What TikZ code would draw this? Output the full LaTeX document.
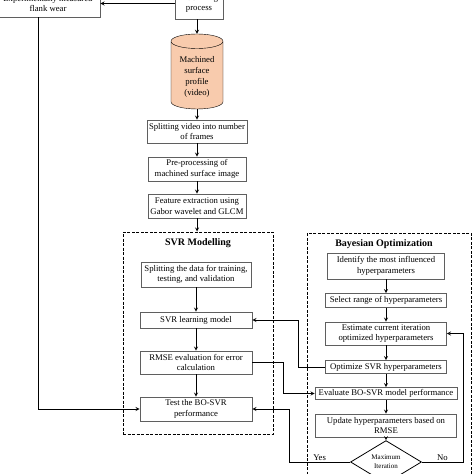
\documentclass[tikz,border=0pt]{standalone}
\usepackage{fontspec}
\setmainfont{Liberation Serif}
\usetikzlibrary{shapes.geometric, arrows.meta, positioning, calc}
\definecolor{peach}{RGB}{248,203,173}
\definecolor{boxline}{RGB}{95,95,95}
\tikzstyle{stage} = [rectangle, draw=boxline, line width=0.8pt, align=center, inner sep=1pt, font=\fontsize{8.7}{10.5}\selectfont]
\tikzstyle{group} = [rectangle, draw=black, line width=1pt, dash pattern=on 3pt off 1.5pt]
\tikzstyle{grouptitle} = [font=\fontsize{10}{12}\selectfont\bfseries]
\tikzstyle{store} = [cylinder, shape border rotate=90, aspect=0.35, draw=black, fill=peach, align=center, font=\fontsize{8.7}{11}\selectfont]
\tikzstyle{decision} = [diamond, draw=black, line width=0.8pt, align=center, inner sep=0pt, font=\fontsize{7}{9}\selectfont]
\tikzstyle{arrow} = [thick, ->, >=stealth]

\begin{document}
\begin{tikzpicture}[x=1pt, y=-1pt]
    \useasboundingbox (0,0) rectangle (474,474);
    % input side
    \node[stage, minimum width=104pt, minimum height=27pt] (flank) at (48,3.5) {Experimentally measured\\flank wear};
    \node[stage, minimum width=48pt, minimum height=31pt] (proc) at (199,3.5) {Machining\\process};
    \node[store, minimum width=52pt, minimum height=75pt] (cyl) at (197,77) {Machined\\surface\\profile\\(video)};
    \node[stage, minimum width=100pt, minimum height=23pt] (video) at (197,131.5) {Splitting video into number\\of frames};
    \node[stage, minimum width=98pt, minimum height=24pt] (preproc) at (197,169) {Pre-processing of\\machined surface image};
    \node[stage, minimum width=98pt, minimum height=24pt] (feature) at (197,206) {Feature extraction using\\Gabor wavelet and GLCM};
    % SVR part
    \node[group, minimum width=150pt, minimum height=202pt] (svrgroup) at (198,333) {};
    \node[grouptitle] (svrtitle) at (198,243) {SVR Modelling};
    \node[stage, minimum width=110pt, minimum height=25pt] (split) at (196,274.5) {Splitting the data for training,\\testing, and validation};
    \node[stage, minimum width=112pt, minimum height=16pt] (learn) at (196,320) {SVR learning model};
    \node[stage, minimum width=112pt, minimum height=23pt] (rmse) at (196,362.5) {RMSE evaluation for error\\calculation};
    \node[stage, minimum width=112pt, minimum height=24pt] (test) at (196,409) {Test the BO-SVR\\performance};
    % Bayesian part
    \node[group, minimum width=164pt, minimum height=257pt] (bogroup) at (389,361.5) {};
    \node[grouptitle] (botitle) at (384,244) {Bayesian Optimization};
    \node[stage, minimum width=117pt, minimum height=26pt] (identify) at (386,266) {Identify the most influenced\\hyperparameters};
    \node[stage, minimum width=121pt, minimum height=14pt] (select) at (386,300.5) {Select range of hyperparameters};
    \node[stage, minimum width=121pt, minimum height=23pt] (estim) at (386,333.5) {Estimate current iteration\\optimized hyperparameters};
    \node[stage, minimum width=121pt, minimum height=13pt] (optim) at (386,367) {Optimize SVR hyperparameters};
    \node[stage, minimum width=142pt, minimum height=12pt] (evalbo) at (386,393.5) {Evaluate BO-SVR model performance};
    \node[stage, minimum width=141pt, minimum height=23pt] (update) at (386,425.5) {Update hyperparameters based on\\RMSE};
    \node[decision, minimum width=71pt, minimum height=32pt] (maxit) at (386,462) {Maximum\\Iteration};

    \draw[arrow] (proc.west) -- (flank.east);
    \draw[arrow] (cyl.north |- proc.south) -- (cyl.north);
    \draw[arrow] (cyl.south) -- (video.north);
    \draw[arrow] (video.south) -- (preproc.north);
    \draw[arrow] (preproc.south) -- (feature.north);
    \draw[arrow] (feature.south) -- (feature.south |- svrgroup.north);
    \draw[arrow] (split.south) -- (learn.north);
    \draw[arrow] (learn.south) -- (rmse.north);
    \draw[arrow] (rmse.south) -- (test.north);
    \draw[arrow] (identify.south) -- (select.north);
    \draw[arrow] (select.south) -- (estim.north);
    \draw[arrow] (estim.south) -- (optim.north);
    \draw[arrow] (optim.south) -- (evalbo.north);
    \draw[arrow] (evalbo.south) -- (update.north);
    \draw[arrow] (update.south) -- (maxit.north);
    \draw[arrow] ([xshift=-10pt]flank.south) |- (test.west);
    \draw[arrow] (optim.west) -- ++(-27,0) |- (learn.east);
    \draw[arrow] (rmse.east) -- ++(31,0) |- (evalbo.west);
    \draw[arrow] (maxit.west) -- ++(-61,0) node[midway, above, font=\fontsize{8.7}{10}\selectfont, inner sep=1pt] {Yes} |- (test.east);
    \draw[arrow] (maxit.east) -- ++(41,0) node[midway, above, font=\fontsize{8.7}{10}\selectfont, inner sep=1pt] {No} |- (estim.east);
\end{tikzpicture}
\end{document}
